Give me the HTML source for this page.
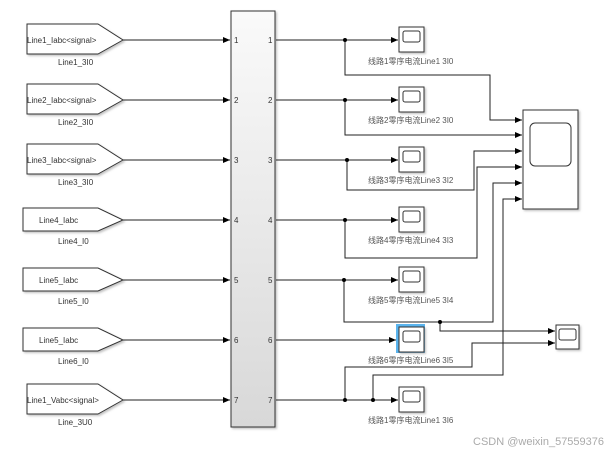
<!DOCTYPE html>
<html><head><meta charset="utf-8"><style>
html,body{margin:0;padding:0;background:#fff;}
svg{display:block;}
text{font-family:"Liberation Sans","Noto Sans CJK SC",sans-serif;font-size:8px;fill:#333;}
.cn{font-size:8px;fill:#555;}
</style></head><body>
<svg width="613" height="453" viewBox="0 0 613 453" xmlns="http://www.w3.org/2000/svg">
<defs>
<linearGradient id="g" x1="0" y1="0" x2="0" y2="1"><stop offset="0" stop-color="#fafafa"/><stop offset="1" stop-color="#d8d8d8"/></linearGradient>
<marker id="a" markerWidth="8" markerHeight="8" refX="7" refY="4" orient="auto" markerUnits="userSpaceOnUse"><path d="M0,1 L7,4 L0,7 z" fill="#000"/></marker>
<filter id="sh" x="-10%" y="-10%" width="130%" height="130%"><feDropShadow dx="1.5" dy="1.5" stdDeviation="1" flood-color="#999" flood-opacity="0.6"/></filter>
</defs>

<!-- Goto blocks -->
<g stroke="#333" stroke-width="1" fill="#fff" filter="url(#sh)">
<path d="M27,24 H98 L123,40 L98,54 H27 Z"/>
<path d="M27,84 H98 L123,100 L98,114 H27 Z"/>
<path d="M27,144 H98 L123,160 L98,174 H27 Z"/>
<path d="M23,208 H98 L123,220 L98,231 H23 Z"/>
<path d="M23,268 H98 L123,280 L98,291 H23 Z"/>
<path d="M23,328 H98 L123,340 L98,351 H23 Z"/>
<path d="M27,384 H98 L123,400 L98,414 H27 Z"/>
</g>
<text x="27" y="43">Line1_Iabc&lt;signal&gt;</text>
<text x="27" y="103">Line2_Iabc&lt;signal&gt;</text>
<text x="27" y="163">Line3_Iabc&lt;signal&gt;</text>
<text x="39" y="223">Line4_Iabc</text>
<text x="39" y="283">Line5_Iabc</text>
<text x="39" y="343">Line5_Iabc</text>
<text x="27" y="403">Line1_Vabc&lt;signal&gt;</text>
<text x="58" y="65">Line1_3I0</text>
<text x="58" y="125">Line2_3I0</text>
<text x="58" y="185">Line3_3I0</text>
<text x="58" y="244">Line4_I0</text>
<text x="58" y="304">Line5_I0</text>
<text x="58" y="364">Line6_I0</text>
<text x="58" y="425">Line_3U0</text>

<!-- Mux -->
<rect x="231" y="11" width="44" height="416" fill="url(#g)" stroke="#333" filter="url(#sh)"/>

<g stroke="#222" stroke-width="1" fill="none">
<!-- inputs -->
<line x1="123" y1="40" x2="230" y2="40" marker-end="url(#a)"/>
<line x1="123" y1="100" x2="230" y2="100" marker-end="url(#a)"/>
<line x1="123" y1="160" x2="230" y2="160" marker-end="url(#a)"/>
<line x1="123" y1="220" x2="230" y2="220" marker-end="url(#a)"/>
<line x1="123" y1="280" x2="230" y2="280" marker-end="url(#a)"/>
<line x1="123" y1="340" x2="230" y2="340" marker-end="url(#a)"/>
<line x1="123" y1="400" x2="230" y2="400" marker-end="url(#a)"/>
<!-- outputs to scopes -->
<line x1="276" y1="40" x2="398" y2="40" marker-end="url(#a)"/>
<line x1="276" y1="100" x2="398" y2="100" marker-end="url(#a)"/>
<line x1="276" y1="160" x2="398" y2="160" marker-end="url(#a)"/>
<line x1="276" y1="220" x2="398" y2="220" marker-end="url(#a)"/>
<line x1="276" y1="280" x2="398" y2="280" marker-end="url(#a)"/>
<line x1="276" y1="340" x2="396" y2="340" marker-end="url(#a)"/>
<line x1="276" y1="400" x2="398" y2="400" marker-end="url(#a)"/>
<!-- branches -->
<polyline points="345,40 345,75 490,75 490,120 522,120" marker-end="url(#a)"/>
<polyline points="345,100 345,135 522,135" marker-end="url(#a)"/>
<polyline points="347,160 347,190 474,190 474,151 522,151" marker-end="url(#a)"/>
<polyline points="345,220 345,258 477,258 477,167 522,167" marker-end="url(#a)"/>
<polyline points="344,280 344,322 493,322 493,183 522,183" marker-end="url(#a)"/>
<polyline points="440,322 440,331 555,331" marker-end="url(#a)"/>
<polyline points="345,400 345,367 472,367 472,343 555,343" marker-end="url(#a)"/>
<polyline points="373,400 373,375 503,375 503,199 522,199" marker-end="url(#a)"/>
</g>
<g fill="#000">
<circle cx="345" cy="40" r="2"/><circle cx="345" cy="100" r="2"/><circle cx="347" cy="160" r="2"/>
<circle cx="345" cy="220" r="2"/><circle cx="344" cy="280" r="2"/><circle cx="440" cy="322" r="2"/>
<circle cx="345" cy="400" r="2"/><circle cx="373" cy="400" r="2"/>
</g>

<!-- port numbers -->
<g>
<text x="234" y="43">1</text><text x="234" y="103">2</text><text x="234" y="163">3</text><text x="234" y="223">4</text><text x="234" y="283">5</text><text x="234" y="343">6</text><text x="234" y="403">7</text>
<text x="268" y="43">1</text><text x="268" y="103">2</text><text x="268" y="163">3</text><text x="268" y="223">4</text><text x="268" y="283">5</text><text x="268" y="343">6</text><text x="268" y="403">7</text>
</g>

<!-- small scopes -->
<rect x="396" y="324" width="29" height="29" fill="#5ab4ee"/>
<g stroke="#333" fill="#fff" filter="url(#sh)">
<rect x="399" y="27" width="25" height="25"/>
<rect x="399" y="87" width="25" height="25"/>
<rect x="399" y="147" width="25" height="25"/>
<rect x="399" y="207" width="25" height="25"/>
<rect x="399" y="267" width="25" height="25"/>
<rect x="399" y="327" width="25" height="25"/>
<rect x="399" y="387" width="25" height="25"/>
<rect x="556" y="325" width="23" height="24"/>
<rect x="523" y="110" width="55" height="99"/>
</g>
<g stroke="#333" fill="none">
<rect x="403" y="31" width="17" height="11" rx="2"/>
<rect x="403" y="91" width="17" height="11" rx="2"/>
<rect x="403" y="151" width="17" height="11" rx="2"/>
<rect x="403" y="211" width="17" height="11" rx="2"/>
<rect x="403" y="271" width="17" height="11" rx="2"/>
<rect x="403" y="331" width="17" height="11" rx="2"/>
<rect x="403" y="391" width="17" height="11" rx="2"/>
<rect x="559" y="329" width="17" height="11" rx="2"/>
<rect x="530" y="123" width="41" height="43" rx="5"/>
</g>
<g class="cn">
<text class="cn" x="368" y="64">线路1零序电流Line1 3I0</text>
<text class="cn" x="368" y="123">线路2零序电流Line2 3I0</text>
<text class="cn" x="368" y="183">线路3零序电流Line3 3I2</text>
<text class="cn" x="368" y="243">线路4零序电流Line4 3I3</text>
<text class="cn" x="368" y="303">线路5零序电流Line5 3I4</text>
<text class="cn" x="368" y="363">线路6零序电流Line6 3I5</text>
<text class="cn" x="368" y="423">线路1零序电流Line1 3I6</text>
</g>
<text x="473" y="445" style="font-size:11px;fill:#aaa">CSDN @weixin_57559376</text>
</svg>
</body></html>
